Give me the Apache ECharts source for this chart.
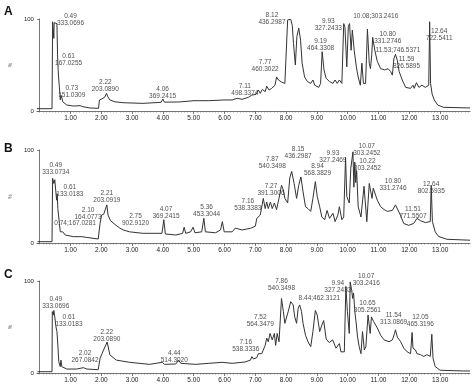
<!DOCTYPE html>
<html><head><meta charset="utf-8">
<script src="https://cdn.jsdelivr.net/npm/echarts@6/dist/echarts.min.js"></script>
<style>html,body{margin:0;padding:0;background:#fff}#c{width:474px;height:384px}</style>
</head><body><div id="c"></div><script>
// ---- Panel A trace (retention time, relative intensity %) ----
const timesA = [-0.09,0.40,0.42,0.45,0.46,0.47,0.56,0.58,0.60,0.61,0.64,0.67,0.70,0.75,0.88,1.10,1.31,1.40,1.63,1.91,1.94,2.01,2.06,2.11,2.17,2.21,2.28,2.44,2.71,3.35,3.94,4.00,4.05,4.53,5.01,5.49,5.98,6.25,6.41,6.57,6.78,6.89,6.94,7.02,7.10,7.16,7.23,7.32,7.37,7.45,7.53,7.64,7.69,7.75,7.80,7.85,7.96,8.01,8.05,8.15,8.20,8.24,8.30,8.35,8.41,8.47,8.52,8.60,8.69,8.80,8.87,8.93,9.06,9.12,9.17,9.23,9.30,9.41,9.52,9.59,9.66,9.73,9.81,9.87,9.91,9.97,10.02,10.06,10.11,10.15,10.21,10.28,10.34,10.41,10.46,10.51,10.58,10.64,10.70,10.74,10.78,10.81,10.88,10.96,11.07,11.20,11.31,11.39,11.45,11.50,11.55,11.61,11.67,11.77,11.88,12.04,12.12,12.16,12.23,12.31,12.41,12.52,12.63,12.66,12.69,12.74,12.81,12.92,13.11,13.97];
const valuesA = [2.5,2.5,97,96,79,96,95,61,45,38,26,12,17,10,6.5,5.4,5.8,4.7,3.3,2.9,12,13,14.5,15,19.2,15.6,12,10,9,8.3,9.4,13,9.6,9.8,11.2,11.2,12,12,13.8,12.7,14.9,17.4,19,18,22.8,19.2,23.5,21,27,22.8,24.6,28,37,33.7,35.5,31.5,30,31.5,99,99.6,93,73.5,50,81,90,77,52,37,32,30,33.7,28,25.7,30,64.5,44.6,35.5,32,30,33.7,30,33.7,30,95,91,48,92,95,66,88,66,48,37,28,52,30,30,89,52,46,61,80,66,54,46,44.6,46,43,39,57,61.6,55,43,33.7,25.7,24.6,28,24.6,30.8,25.7,28,25.7,28,97,30,18.5,12,6.5,4,3.3];

// ---- Panel B trace ----
const timesB = [-0.07,0.40,0.42,0.44,0.46,0.49,0.52,0.55,0.57,0.59,0.64,0.67,0.71,0.75,0.83,1.10,1.37,1.42,1.53,1.90,1.96,2.01,2.08,2.14,2.18,2.22,2.30,2.44,2.60,2.71,2.92,3.35,3.97,4.03,4.08,4.42,4.64,4.69,4.74,4.90,4.98,5.04,5.26,5.33,5.38,5.71,5.87,5.93,5.99,6.25,6.35,6.57,6.84,7.00,7.05,7.16,7.21,7.26,7.32,7.37,7.42,7.49,7.55,7.62,7.69,7.77,7.85,7.91,7.96,8.05,8.12,8.18,8.26,8.34,8.41,8.48,8.55,8.63,8.71,8.80,8.87,8.95,9.01,9.09,9.16,9.25,9.33,9.41,9.52,9.59,9.68,9.73,9.81,9.87,9.93,9.97,10.05,10.10,10.17,10.20,10.23,10.26,10.29,10.34,10.43,10.53,10.62,10.70,10.75,10.79,10.83,10.88,10.96,11.07,11.18,11.29,11.45,11.55,11.61,11.71,11.82,11.98,12.14,12.25,12.36,12.52,12.68,12.71,12.75,12.84,12.95,13.22,13.97];
const valuesB = [1.4,1.4,69.5,71,64,68,57,46,53,37,21,12,10,12,8.6,6.8,6.8,8.6,6,4.3,21,30,31,30,41,30,24,20,16,14,12,10.4,10.4,25,9.7,8.6,10.4,17,10.4,12,17,11,12,26.5,12,11,14,23,12,12,16,14,15.8,18,26.5,30,28,48,37,44,37,44,37,43,36,48,62,57,48,43,70,77,64,48,62,71,55,39,37,34,48,66,50,39,28,25,35,26.5,32,23,30,39,25,28,92,50,43,80,98,60,87,65,78,39,28,61,23,64,66,48,59,57,46,39,36,34,35,41,39,30,21,19,21,26.5,24,22,23,62,23,12,7,4,3];

// ---- Panel C trace ----
const timesC = [-0.07,0.40,0.41,0.44,0.46,0.49,0.53,0.56,0.59,0.62,0.67,0.69,0.72,0.88,1.20,1.42,1.53,1.90,1.96,2.06,2.11,2.19,2.28,2.49,2.92,3.56,3.98,4.05,4.42,4.51,4.58,5.07,5.49,5.92,6.25,6.67,6.84,6.89,6.94,7.05,7.10,7.16,7.21,7.26,7.32,7.37,7.42,7.48,7.52,7.55,7.62,7.66,7.71,7.77,7.85,7.91,7.96,8.01,8.07,8.15,8.23,8.28,8.34,8.39,8.44,8.50,8.55,8.63,8.71,8.80,8.87,8.95,9.01,9.09,9.16,9.22,9.30,9.40,9.51,9.62,9.73,9.78,9.84,9.89,9.94,9.99,10.05,10.08,10.13,10.16,10.19,10.23,10.27,10.32,10.37,10.43,10.48,10.54,10.59,10.66,10.73,10.77,10.84,10.88,10.96,11.07,11.18,11.34,11.45,11.52,11.55,11.61,11.72,11.82,11.93,12.04,12.09,12.12,12.20,12.25,12.36,12.47,12.57,12.68,12.73,12.77,12.84,13.00,13.75,13.97];
const valuesC = [1.4,1.4,66.7,63,68,61,50,44.9,30.4,12.3,6.9,14,6.9,4.3,4.3,5.8,4.3,3.6,15.9,23.9,26,33.7,19.6,14,11.6,9.4,11.6,9.4,9.8,14,10.5,9.4,10.5,11.6,10.5,12,14,17.8,15.2,16.7,21,23,21,23,30,38,34,43,44,36,43,30,43,34,81,67,54,56,67,77.5,74,61,54,70,74,67,54,41,34,28.6,45,68,63,45,52,57,37,33,36,27,32,23,25,23,94,67,43,99,90,81,87,67,56,39,29,21,45,25,29,63,43,61,56,58,49,41,36,34,36,43,47,39,34,27,23,21,44,27,25,21,20,18,20,18,42,16,7,3,2.2,2.2];

// ---- Peak annotations: [time, intensity, text] ----
const annA = [[1.00,98.9,'0.49\n333.0696'],[0.94,55.4,'0.61\n167.0255'],[1.04,21,'0.73\n151.0309'],[2.13,27.2,'2.22\n203.0890'],[3.99,20.4,'4.06\n369.2415'],[6.66,23.4,'7.11\n498.3374'],[7.32,49.7,'7.77\n460.3022'],[7.54,100.3,'8.12\n436.2987'],[9.12,72,'9.19\n464.3308'],[9.37,93.5,'9.93\n327.2433'],[10.91,103.3,'10.08;303.2416'],[11.30,79.7,'10.80\n331.2746'],[11.63,66.3,'11.53;746.5371'],[11.91,53,'11.59\n826.5895'],[12.97,83,'12.64\n722.5411']];
const annB = [[0.52,79.4,'0.49\n333.0734'],[0.98,56.7,'0.61\n133.0183'],[2.18,49.5,'2.21\n203.0919'],[1.57,31.9,'2.10\n164.0773'],[1.15,21.2,'0.74;167.0281'],[3.11,24.7,'2.75\n902.9120'],[4.10,33.1,'4.07\n369.2415'],[5.42,34.2,'5.36\n453.3044'],[6.76,41.4,'7.16\n538.3383'],[7.51,57,'7.27\n391.3006'],[7.55,86.6,'7.87\n540.3498'],[8.39,97.1,'8.15\n436.2987'],[9.02,78.8,'8.94\n568.3829'],[9.52,92.8,'9.93\n327.2469'],[10.62,100,'10.07\n303.2452'],[10.64,83.9,'10.22\n303.2452'],[11.47,62.4,'10.80\n331.2746'],[12.12,32.6,'11.51\n771.5507'],[12.71,59.1,'12.64\n802.5935']];
const annC = [[0.52,76.6,'0.49\n333.0696'],[0.95,56.5,'0.61\n133.0183'],[2.18,40.5,'2.22\n203.0890'],[1.47,17.9,'2.02\n267.0842'],[4.37,17.9,'4.44\n514.3020'],[6.69,30.1,'7.16\n538.3336'],[7.16,56.5,'7.52\n564.3479'],[7.85,96.4,'7.86\n540.3498'],[9.08,81.8,'8.44;462.3121'],[9.68,94.2,'9.94\n327.2433'],[10.60,101,'10.07\n303.2416'],[10.64,72.1,'10.65\n305.2561'],[11.49,59.5,'11.54\n313.0869'],[12.36,56.5,'12.05\n465.3196']];

// ---- Axis ticks ----
const xTicks = [1,2,3,4,5,6,7,8,9,10,11,12,13];
const yTicks = [0,100];
const panelLetters = ['A','B','C'];

const X_MIN = -0.09, X_MAX = 13.97;
const minorTicks = [];
for (let i = 0; i <= 139; i++) minorTicks.push(+(i * 0.1).toFixed(1));

const grids = [
  {left:33, right:4, top:19, height:92},
  {left:33, right:4, top:150, height:93},
  {left:33, right:4, top:281, height:92}
];
const FONT = "'Liberation Sans', Arial, sans-serif";
const traces = [[timesA,valuesA],[timesB,valuesB],[timesC,valuesC]];
const anns = [annA, annB, annC];

const xAxes = [], yAxes = [], series = [], titles = [];
const letterTops = [6, 143, 269];
grids.forEach((g, i) => {
  xAxes.push({
    type:'value', gridIndex:i, min:X_MIN, max:X_MAX, position:'bottom',
    axisLine:{show:true, lineStyle:{color:'#555', width:0.8}},
    axisTick:{show:true, length:3, customValues:xTicks, lineStyle:{color:'#555', width:0.8}},
    axisLabel:{show:true, customValues:xTicks, formatter:v => v.toFixed(2), fontSize:6.5, color:'#222', margin:4, fontFamily:FONT},
    splitLine:{show:false}
  });
  xAxes.push({
    type:'value', gridIndex:i, min:X_MIN, max:X_MAX, position:'bottom',
    axisLine:{show:false},
    axisTick:{show:true, length:1.5, customValues:minorTicks, lineStyle:{color:'#666', width:0.6}},
    axisLabel:{show:false}, splitLine:{show:false}
  });
  yAxes.push({
    type:'value', gridIndex:i, min:0, max:100, interval:100,
    name:'%', nameLocation:'middle', nameGap:3, nameRotate:90,
    nameTextStyle:{fontSize:5, color:'#444', fontFamily:FONT},
    axisLine:{show:true, lineStyle:{color:'#555', width:0.8}},
    axisTick:{show:true, length:2.5, lineStyle:{color:'#555', width:0.8}},
    axisLabel:{fontSize:6, color:'#222', margin:3, fontFamily:FONT},
    splitLine:{show:false}
  });
  const [ts, vs] = traces[i];
  series.push({
    type:'line', xAxisIndex:2*i, yAxisIndex:i, symbol:'none', animation:false,
    lineStyle:{color:'#333', width:1},
    data: ts.map((t, k) => [t, vs[k]])
  });
  series.push({
    type:'scatter', xAxisIndex:2*i, yAxisIndex:i, symbolSize:0, clip:false, animation:false,
    silent:true,
    label:{show:true, position:'inside', formatter:p => p.data.name, fontSize:6.5, lineHeight:7,
      color:'#222', fontFamily:FONT, align:'center', verticalAlign:'middle'},
    data: anns[i].map(a => ({value:[a[0], a[1]], name:a[2]}))
  });
  titles.push({text:panelLetters[i], left:4, top:letterTops[i], padding:0,
    textStyle:{fontSize:12, fontWeight:'bold', color:'#111', fontFamily:FONT}});
});

const chart = echarts.init(document.getElementById('c'), null, {renderer:'canvas'});
chart.setOption({
  animation:false, backgroundColor:'#fff',
  title:titles, grid:grids, xAxis:xAxes, yAxis:yAxes, series:series
});
</script></body></html>
